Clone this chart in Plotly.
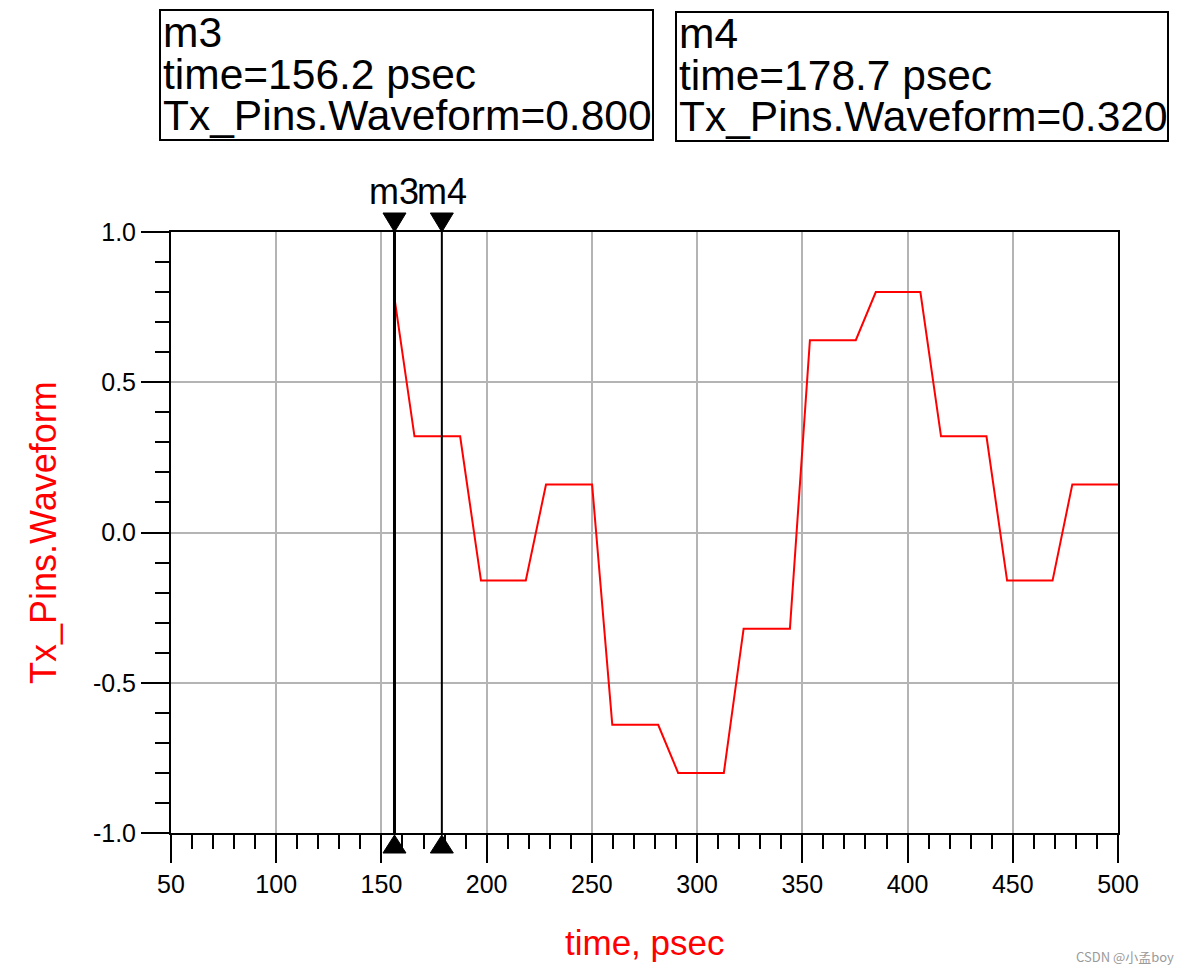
import plotly.graph_objects as go

# ---------------- data ----------------
time_ps = [156.2, 165.7, 187.4, 197.3, 218.6, 228.2, 250.1, 259.7, 281.5, 291.0,
           312.7, 322.1, 344.1, 353.6, 375.4, 384.9, 406.1, 415.9, 437.5, 447.3,
           468.9, 478.3, 500.0]
waveform = [0.78, 0.32, 0.32, -0.16, -0.16, 0.16, 0.16, -0.64, -0.64, -0.80,
            -0.80, -0.32, -0.32, 0.64, 0.64, 0.80, 0.80, 0.32, 0.32, -0.16,
            -0.16, 0.16, 0.16]

marker_names = ["m3", "m4"]
marker_times = [156.2, 178.7]
marker_values = ["0.800", "0.320"]
marker_widths = [3, 2]

x_tickvals = [50, 100, 150, 200, 250, 300, 350, 400, 450, 500]
y_tickvals = [-1.0, -0.5, 0.0, 0.5, 1.0]
y_ticktext = ["-1.0", "-0.5", "0.0", "0.5", "1.0"]

# ---------------- layout geometry (pixels) ----------------
W, H = 1190, 974
L, R, T, B = 171, 1118, 232, 833
FONT = "Liberation Sans, Arial, sans-serif"


def px_x(px):
    return (px - L) / (R - L)


def px_y(py):
    return (B - py) / (B - T)


fig = go.Figure()

fig.add_trace(go.Scatter(x=time_ps, y=waveform, mode="lines",
                         line=dict(color="#ff0000", width=2),
                         showlegend=False, hoverinfo="skip"))

for name, t, w in zip(marker_names, marker_times, marker_widths):
    fig.add_trace(go.Scatter(x=[t, t], y=[-1, 1], mode="lines",
                             line=dict(color="black", width=w),
                             showlegend=False, hoverinfo="skip"))

shapes = []
annotations = []

# marker triangles and labels
for name, t in zip(marker_names, marker_times):
    shapes.append(dict(type="path", xref="x", yref="paper",
                       xsizemode="pixel", ysizemode="pixel",
                       xanchor=t, yanchor=1,
                       path="M -11.5,19 L 11.5,19 L 0,0 Z",
                       fillcolor="black", line=dict(color="black", width=1)))
    shapes.append(dict(type="path", xref="x", yref="paper",
                       xsizemode="pixel", ysizemode="pixel",
                       xanchor=t, yanchor=0,
                       path="M -11.5,-20 L 11.5,-20 L 0,-2 Z",
                       fillcolor="black", line=dict(color="black", width=1)))
    annotations.append(dict(x=t, xref="x", y=px_y(191), yref="paper",
                            text=name, showarrow=False, xanchor="center",
                            yanchor="middle",
                            font=dict(family=FONT, size=36, color="black")))

# readout boxes
boxes = [(160, 10, 653, 140), (676, 12, 1168, 141)]
line_centers = [[32, 74, 116], [33, 75, 117]]
for (x0, y0, x1, y1), centers, name, t, v in zip(boxes, line_centers, marker_names,
                                                  marker_times, marker_values):
    shapes.append(dict(type="rect", xref="paper", yref="paper",
                       x0=px_x(x0), x1=px_x(x1), y0=px_y(y1), y1=px_y(y0),
                       line=dict(color="black", width=2), fillcolor="white",
                       layer="below"))
    lines = [name, f"time={t:.1f} psec", f"Tx_Pins.Waveform={v}"]
    for txt, cy in zip(lines, centers):
        annotations.append(dict(x=px_x(x0 + 1), xref="paper", y=px_y(cy), yref="paper",
                                text=txt, showarrow=False, xanchor="left",
                                yanchor="middle",
                                font=dict(family=FONT, size=42.5, color="black")))

# axis titles
annotations.append(dict(x=0.5, xref="paper", y=px_y(942), yref="paper",
                        text="time, psec", showarrow=False, xanchor="center",
                        yanchor="middle",
                        font=dict(family=FONT, size=35, color="#ff0000")))
annotations.append(dict(x=px_x(43), xref="paper", y=px_y(533), yref="paper",
                        text="Tx_Pins.Waveform", showarrow=False, textangle=-90,
                        xanchor="center", yanchor="middle",
                        font=dict(family=FONT, size=36, color="#ff0000")))
# watermark
annotations.append(dict(x=px_x(1176), xref="paper", y=px_y(956), yref="paper",
                        text="CSDN @小孟boy", showarrow=False, xanchor="right",
                        yanchor="middle",
                        font=dict(family="Noto Sans CJK SC, sans-serif", size=13,
                                  color="#9a9a9a")))

fig.update_layout(
    width=W, height=H,
    margin=dict(l=L, r=W - R, t=T, b=H - B, pad=0),
    paper_bgcolor="white", plot_bgcolor="white",
    showlegend=False,
    shapes=shapes, annotations=annotations,
    xaxis=dict(range=[50, 500], tickmode="array", tickvals=x_tickvals,
               ticks="outside", ticklen=28, tickwidth=2, tickcolor="black",
               showline=True, linecolor="black", linewidth=2, mirror=True,
               showgrid=True, gridcolor="#b4b4b4", gridwidth=2, zeroline=False,
               tickfont=dict(family=FONT, size=25, color="black"),
               minor=dict(tickmode="linear", tick0=50, dtick=10, ticks="outside",
                          ticklen=14, tickwidth=2, tickcolor="black", showgrid=False)),
    yaxis=dict(range=[-1, 1], tickmode="array", tickvals=y_tickvals,
               ticktext=y_ticktext,
               ticks="outside", ticklen=28, tickwidth=2, tickcolor="black",
               showline=True, linecolor="black", linewidth=2, mirror=True,
               showgrid=True, gridcolor="#b4b4b4", gridwidth=2, zeroline=False,
               tickfont=dict(family=FONT, size=25, color="black"),
               minor=dict(tickmode="linear", tick0=0, dtick=0.1, ticks="outside",
                          ticklen=14, tickwidth=2, tickcolor="black", showgrid=False)),
)

fig.write_html("out.html")
